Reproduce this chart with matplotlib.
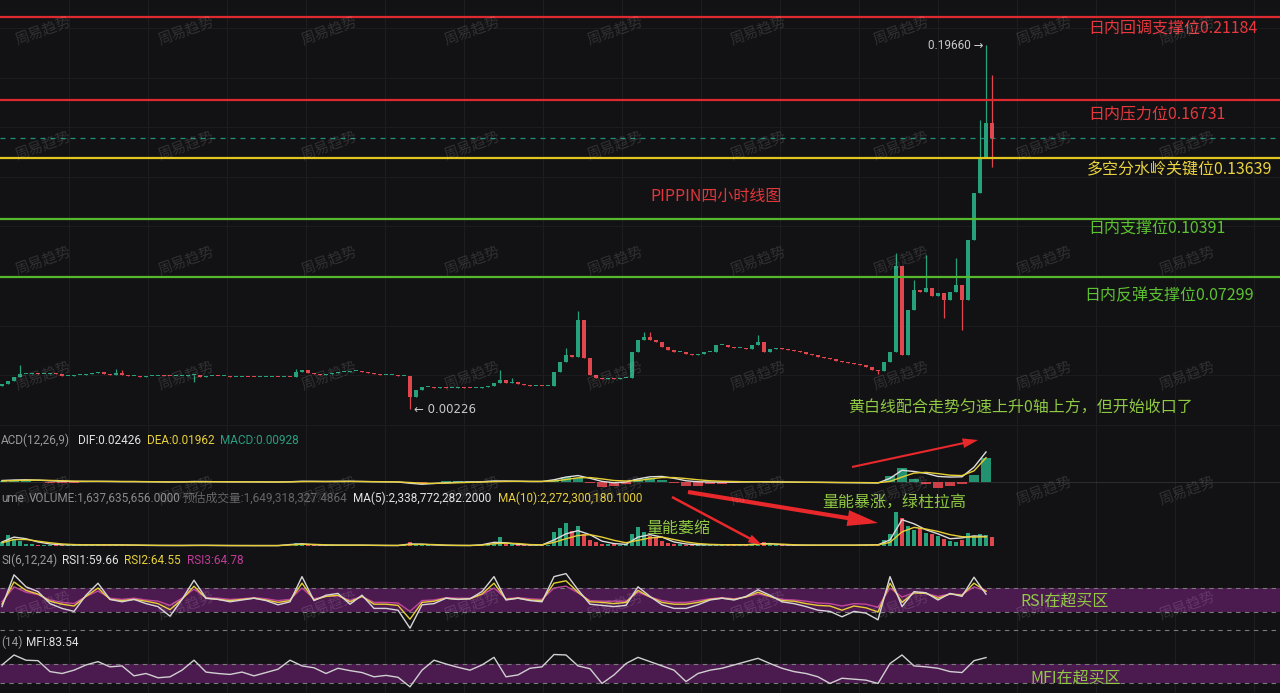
import matplotlib
matplotlib.use('Agg')
import matplotlib.pyplot as plt
import matplotlib.transforms as mtransforms
from matplotlib.patches import FancyArrowPatch
from matplotlib.lines import Line2D
import numpy as np

plt.rcParams['font.family'] = ['Noto Sans CJK SC', 'DejaVu Sans']

W, H = 1280, 693
BG = '#121214'

# ---------------- data ----------------
close = [
    0.0159, 0.0175, 0.0196, 0.0212, 0.0212, 0.0217, 0.0212, 0.0212, 0.0217, 0.0212,
    0.0201, 0.0201, 0.0207, 0.0207, 0.0212, 0.0217, 0.0223, 0.0212, 0.0207, 0.0217,
    0.0207, 0.0201, 0.0201, 0.0196, 0.0201, 0.0201, 0.0203, 0.0201, 0.0199, 0.0201,
    0.0201, 0.0207, 0.0207, 0.0196, 0.0201, 0.0201, 0.0199, 0.0201, 0.0196, 0.0196,
    0.0198, 0.0196, 0.0194, 0.0196, 0.0196, 0.0198, 0.0196, 0.0196, 0.0194, 0.0223,
    0.0233, 0.0217, 0.0212, 0.0207, 0.0212, 0.0217, 0.0223, 0.0223, 0.0228, 0.0228,
    0.0223, 0.0217, 0.0212, 0.0207, 0.0207, 0.0207, 0.0201, 0.0201, 0.0089, 0.0126,
    0.0143, 0.0143, 0.0137, 0.0140, 0.0137, 0.0137, 0.0140, 0.0137, 0.0135, 0.0137,
    0.0140, 0.0148, 0.0164, 0.0180, 0.0164, 0.0169, 0.0159, 0.0153, 0.0148, 0.0148,
    0.0146, 0.0148, 0.0223, 0.0276, 0.0313, 0.0303, 0.0500, 0.0300, 0.0207, 0.0191,
    0.0185, 0.0191, 0.0185, 0.0191, 0.0191, 0.0330, 0.0394, 0.0410, 0.0394, 0.0383,
    0.0356, 0.0340, 0.0330, 0.0330, 0.0319, 0.0313, 0.0319, 0.0330, 0.0330, 0.0367,
    0.0367, 0.0356, 0.0351, 0.0351, 0.0346, 0.0367, 0.0383, 0.0330, 0.0346, 0.0351,
    0.0346, 0.0340, 0.0335, 0.0330, 0.0319, 0.0313, 0.0303, 0.0297, 0.0292, 0.0281,
    0.0276, 0.0271, 0.0265, 0.0260, 0.0249, 0.0233, 0.0228, 0.0276, 0.0330, 0.0790,
    0.0313, 0.0554, 0.0660, 0.0650, 0.0671, 0.0629, 0.0645, 0.0607, 0.0650, 0.0687,
    0.0607, 0.0927, 0.1178, 0.1370, 0.1552, 0.1472,
]
first_open = 0.0150
wick_high = {3: 0.0260, 19: 0.0239, 20: 0.0234, 49: 0.0239, 83: 0.0233, 85: 0.0191,
             94: 0.0350, 96: 0.0548, 107: 0.0436, 108: 0.0436, 126: 0.0420,
             149: 0.0858, 150: 0.0790, 152: 0.0714, 154: 0.0847, 159: 0.0831,
             163: 0.1568, 164: 0.19660, 165: 0.1808}
wick_low = {32: 0.0169, 68: 0.00226, 146: 0.0212, 157: 0.0511, 160: 0.0447, 165: 0.1317}

volume = [
    1.0, 2.7, 1.8, 1.2, 0.6, 0.4, 0.3, 0.3, 0.2, 0.2,
    0.2, 0.2, 0.3, 0.2, 0.2, 0.3, 0.4, 0.2, 0.2, 0.3,
    0.3, 0.2, 0.1, 0.1, 0.1, 0.1, 0.1, 0.1, 0.1, 0.1,
    0.1, 0.2, 0.2, 0.2, 0.1, 0.1, 0.1, 0.1, 0.1, 0.1,
    0.1, 0.1, 0.1, 0.1, 0.1, 0.1, 0.1, 0.1, 0.1, 0.8,
    0.6, 0.3, 0.2, 0.2, 0.2, 0.2, 0.2, 0.2, 0.2, 0.2,
    0.2, 0.2, 0.1, 0.1, 0.1, 0.1, 0.1, 0.2, 1.0, 0.6,
    0.3, 0.2, 0.1, 0.1, 0.1, 0.1, 0.1, 0.1, 0.1, 0.1,
    0.1, 0.2, 0.6, 2.2, 0.8, 0.5, 0.3, 0.2, 0.2, 0.2,
    0.2, 0.3, 3.5, 4.5, 5.6, 3.8, 5.0, 3.0, 1.5, 0.9,
    0.6, 0.5, 0.4, 0.3, 0.4, 3.0, 4.7, 3.5, 2.5, 2.0,
    1.2, 0.8, 0.6, 0.4, 0.3, 0.3, 0.3, 0.3, 0.3, 0.5,
    0.4, 0.3, 0.3, 0.2, 0.2, 0.4, 0.6, 1.0, 0.4, 0.3,
    0.2, 0.2, 0.2, 0.2, 0.2, 0.2, 0.2, 0.2, 0.2, 0.2,
    0.2, 0.2, 0.2, 0.2, 0.2, 0.3, 0.4, 1.5, 3.0, 8.4,
    7.0, 5.0, 4.0, 4.5, 3.2, 3.0, 2.5, 1.8, 1.2, 1.0,
    1.5, 3.2, 2.5, 3.0, 2.8, 2.3,
]
vol_ma5 = [
    1.0, 2.2, 1.8, 1.0, 0.5, 0.3, 0.25, 0.25, 0.25, 0.25,
    0.25, 0.2, 0.15, 0.12, 0.12, 0.12, 0.15, 0.15, 0.12, 0.1,
    0.1, 0.1, 0.1, 0.1, 0.35, 0.55, 0.3, 0.2, 0.2, 0.2,
    0.2, 0.15, 0.12, 0.12, 0.5, 0.45, 0.25, 0.15, 0.12, 0.12,
    0.3, 0.9, 0.8, 0.4, 0.25, 0.25, 1.5, 3.0, 3.8, 2.8,
    1.2, 0.6, 0.4, 2.2, 2.8, 2.2, 1.0, 0.5, 0.3, 0.3,
    0.3, 0.3, 0.3, 0.5, 0.6, 0.3, 0.2, 0.2, 0.2, 0.2,
    0.2, 0.2, 0.25, 0.3, 1.5, 6.5, 5.5, 4.0, 3.0, 1.8,
    2.0, 2.5, 2.34,
]
vol_ma10 = [
    0.8, 1.6, 1.6, 1.2, 0.8, 0.5, 0.35, 0.3, 0.3, 0.28,
    0.26, 0.24, 0.2, 0.16, 0.14, 0.13, 0.14, 0.15, 0.14, 0.12,
    0.11, 0.1, 0.1, 0.1, 0.25, 0.4, 0.4, 0.28, 0.22, 0.2,
    0.2, 0.18, 0.15, 0.13, 0.35, 0.4, 0.35, 0.22, 0.16, 0.13,
    0.2, 0.55, 0.7, 0.6, 0.35, 0.28, 0.9, 1.8, 2.6, 2.8,
    2.2, 1.4, 0.8, 1.4, 2.0, 2.2, 1.6, 1.0, 0.6, 0.4,
    0.32, 0.3, 0.3, 0.4, 0.5, 0.45, 0.3, 0.22, 0.2, 0.2,
    0.2, 0.2, 0.22, 0.26, 0.9, 3.5, 4.6, 4.2, 3.6, 2.8,
    2.3, 2.2, 2.27,
]
dif = [
    0.0012, 0.0016, 0.0018, 0.0015, 0.0010, 0.0006, 0.0004, 0.0004, 0.0005, 0.0004,
    0.0003, 0.0003, 0.0002, 0.0001, 0.0000, 0.0001, 0.0004, 0.0003, 0.0002, 0.0001,
    0.0001, 0.0001, 0.0000, 0.0000, 0.0002, 0.0006, 0.0005, 0.0004, 0.0005, 0.0005,
    0.0004, 0.0002, 0.0001, 0.0000, -0.0010, -0.0018, -0.0012, -0.0006, -0.0002, 0.0000,
    0.0002, 0.0008, 0.0008, 0.0006, 0.0004, 0.0004, 0.0018, 0.0040, 0.0052, 0.0030,
    0.0005, -0.0006, 0.0000, 0.0025, 0.0042, 0.0045, 0.0030, 0.0010, 0.0002, 0.0000,
    -0.0001, -0.0001, 0.0000, 0.0002, 0.0001, 0.0000, -0.0001, -0.0002, -0.0003, -0.0004,
    -0.0005, -0.0006, -0.0007, -0.0008, 0.0030, 0.0095, 0.0085, 0.0070, 0.0045, 0.0040,
    0.0042, 0.0120, 0.02426,
]
dea = [
    0.0008, 0.0011, 0.0014, 0.0015, 0.0013, 0.0010, 0.0007, 0.0006, 0.0005, 0.0005,
    0.0004, 0.0004, 0.0003, 0.0002, 0.0001, 0.0001, 0.0002, 0.0002, 0.0002, 0.0002,
    0.0001, 0.0001, 0.0001, 0.0000, 0.0001, 0.0003, 0.0004, 0.0004, 0.0004, 0.0005,
    0.0004, 0.0003, 0.0002, 0.0001, -0.0004, -0.0010, -0.0011, -0.0009, -0.0006, -0.0003,
    0.0000, 0.0003, 0.0005, 0.0006, 0.0005, 0.0005, 0.0008, 0.0020, 0.0034, 0.0036,
    0.0025, 0.0012, 0.0008, 0.0012, 0.0025, 0.0036, 0.0036, 0.0028, 0.0018, 0.0010,
    0.0006, 0.0004, 0.0002, 0.0002, 0.0001, 0.0000, -0.0001, -0.0002, -0.0002, -0.0003,
    -0.0004, -0.0004, -0.0005, -0.0006, 0.0005, 0.0040, 0.0072, 0.0078, 0.0068, 0.0055,
    0.0052, 0.0090, 0.01962,
]
macd_hist = [
    0.0008, 0.0010, 0.0008, 0.0000, -0.0006, -0.0008, -0.0006, -0.0004, 0.0000, -0.0002,
    -0.0002, -0.0002, -0.0002, -0.0002, -0.0002, 0.0000, 0.0004, 0.0002, 0.0000, -0.0002,
    0.0000, 0.0000, -0.0002, 0.0000, 0.0002, 0.0006, 0.0002, 0.0000, 0.0002, 0.0000,
    0.0000, -0.0002, -0.0002, -0.0002, -0.0012, -0.0016, -0.0002, 0.0006, 0.0008, 0.0006,
    0.0004, 0.0010, 0.0006, 0.0000, -0.0002, -0.0002, 0.0020, 0.0040, 0.0036, -0.0012,
    -0.0040, -0.0036, -0.0016, 0.0026, 0.0034, 0.0018, -0.0012, -0.0036, -0.0032, -0.0020,
    -0.0014, -0.0010, -0.0004, 0.0000, 0.0000, 0.0000, 0.0000, 0.0000, -0.0002, -0.0002,
    -0.0002, -0.0004, -0.0004, -0.0004, 0.0050, 0.0110, 0.0026, -0.0016, -0.0046, -0.0030,
    -0.0020, 0.0060, 0.0196,
]
rsi1 = [
    39, 92, 72, 64, 44, 36, 31, 58, 78, 51,
    47, 51, 44, 39, 23, 51, 83, 53, 51, 47,
    50, 53, 49, 42, 47, 89, 49, 58, 61, 43,
    58, 36, 36, 33, 3, 42, 44, 53, 51, 52,
    64, 89, 50, 53, 49, 47, 89, 94, 67, 43,
    41, 39, 41, 72, 56, 42, 36, 36, 42, 50,
    53, 50, 56, 67, 58, 47, 44, 39, 33, 31,
    22, 31, 28, 17, 89, 39, 64, 62, 50, 61,
    56, 88, 59.66,
]
rsi2 = [
    43, 80, 66, 60, 48, 43, 40, 56, 70, 51,
    49, 51, 48, 44, 34, 51, 73, 53, 51, 49,
    51, 53, 50, 46, 49, 78, 50, 56, 58, 47,
    56, 43, 43, 41, 18, 46, 48, 53, 51, 52,
    60, 78, 51, 53, 50, 49, 78, 82, 63, 47,
    46, 44, 46, 66, 55, 46, 43, 43, 46, 51,
    53, 51, 55, 63, 56, 49, 48, 44, 41, 40,
    33, 40, 37, 30, 78, 46, 62, 61, 53, 60,
    58, 78, 64.55,
]
rsi3 = [
    47, 72, 63, 59, 50, 46, 44, 56, 65, 53,
    51, 53, 50, 48, 41, 53, 68, 54, 53, 51,
    52, 54, 52, 49, 51, 70, 52, 56, 57, 49,
    56, 46, 46, 45, 31, 49, 50, 54, 53, 53,
    59, 70, 52, 54, 52, 51, 70, 73, 62, 49,
    48, 48, 48, 63, 55, 49, 46, 46, 49, 52,
    54, 52, 55, 60, 56, 51, 50, 48, 45, 44,
    40, 44, 43, 38, 70, 55, 62, 61, 56, 60,
    59, 72, 64.78,
]
mfi = [
    68, 89, 78, 77, 54, 50, 57, 68, 75, 64,
    66, 45, 50, 41, 43, 57, 78, 53, 50, 48,
    53, 45, 52, 59, 78, 66, 62, 50, 61, 56,
    52, 43, 46, 42, 22, 57, 78, 70, 63, 57,
    68, 84, 43, 47, 61, 64, 90, 89, 66, 60,
    29, 47, 71, 84, 75, 66, 57, 33, 50, 57,
    61, 68, 75, 82, 71, 61, 54, 50, 43, 29,
    40, 38, 36, 29, 71, 89, 66, 64, 61, 54,
    52, 77, 83.54,
]

levels = [0.21184, 0.16731, 0.13639, 0.10391, 0.07299]
level_labels = ['日内回调支撑位0.21184', '日内压力位0.16731', '多空分水岭关键位0.13639',
                '日内支撑位0.10391', '日内反弹支撑位0.07299']
level_kind = ['red', 'red', 'yellow', 'green', 'green']
last_price = 0.1472
high_label, low_label = '0.19660', '0.00226'

# ---------------- styles ----------------
UP, DOWN = '#26a17b', '#e0464e'
LINE_COL = {'red': '#dc2a30', 'yellow': '#e2c51f', 'green': '#56b82c'}
TEXT_COL = {'red': '#e8383e', 'yellow': '#ead33e', 'green': '#5cc232'}
NOTE_COL = '#8fc843'
XLIM = (-1 / 3, 213.0)

fig = plt.figure(figsize=(W / 100, H / 100), dpi=100, facecolor=BG)


def fx(px):
    return px / W


def fy(py):
    return 1 - py / H


def panel(top, bottom, ylim):
    ax = fig.add_axes([0, 1 - bottom / H, 1, (bottom - top) / H])
    ax.set_facecolor('none')
    ax.set_xlim(*XLIM)
    ax.set_ylim(*ylim)
    ax.axis('off')
    return ax


# background grid
for gx in range(69, W, 79):
    fig.add_artist(Line2D([fx(gx), fx(gx)], [0, 1], color='#1d1d22', lw=0.8, zorder=0))
for gy in np.arange(28, 430, 49.6):
    fig.add_artist(Line2D([0, 1], [fy(gy), fy(gy)], color='#1b1b20', lw=0.8, zorder=0))

# ---------------- main price panel ----------------
ax = panel(0, 428, (-0.00763, 0.22088))
n = len(close)
idx = np.arange(n)
c = np.array(close)
o = np.concatenate([[first_open], c[:-1]])
hi = np.maximum(o, c)
lo = np.minimum(o, c)
for k, v in wick_high.items():
    hi[k] = max(hi[k], v)
for k, v in wick_low.items():
    lo[k] = min(lo[k], v)
cols = [UP if cc >= oo else DOWN for oo, cc in zip(o, c)]
ax.vlines(idx, lo, hi, colors=cols, lw=0.9, zorder=3)
minh = 0.00055
body_h = np.maximum(np.abs(c - o), minh)
ax.bar(idx, body_h, bottom=np.minimum(o, c), width=0.55, color=cols, lw=0, zorder=4)

blend = mtransforms.blended_transform_factory(fig.transFigure, ax.transData)
label_dy = [11, 13, 12, 9, 19]
label_x = [1088, 1088, 1087, 1088, 1084]
for lv, lab, kind, dy, lx in zip(levels, level_labels, level_kind, label_dy, label_x):
    ax.axhline(lv, color=LINE_COL[kind], lw=1.6, zorder=5)
    ax.annotate(lab, xy=(fx(lx), lv), xycoords=blend, xytext=(0, -dy * 0.72),
                textcoords='offset points', ha='left', va='center',
                color=TEXT_COL[kind], fontsize=11.5, zorder=6)
ax.axhline(last_price, color='#1f8f79', lw=0.9, ls=(0, (4, 4)), zorder=2)

hi_i = int(np.argmax(hi))
lo_i = int(np.argmin(lo))
ax.annotate(high_label + ' →', xy=(hi_i, hi[hi_i]), xytext=(-2, 0), textcoords='offset points',
            ha='right', va='center', color='#c9c9c9', fontsize=8.5, family=['Roboto', 'DejaVu Sans'])
ax.annotate('← ' + low_label, xy=(lo_i, lo[lo_i]), xytext=(3, 0), textcoords='offset points',
            ha='left', va='center', color='#c9c9c9', fontsize=8.5, family=['DejaVu Sans'])

fig.text(fx(650), fy(196), 'PIPPIN四小时线图', color='#e0363c', fontsize=11.5, va='center', ha='left')

# ---------------- MACD ----------------
axm = panel(445, 492, (-0.00808, 0.02991))
ji = np.arange(len(dif)) * 2
hc = [UP if v >= 0 else DOWN for v in macd_hist]
axm.bar(ji, macd_hist, width=1.7, color=hc, lw=0, alpha=0.9, zorder=2)
axm.plot(ji, dif, color='#dedede', lw=1.0, zorder=3)
axm.plot(ji, dea, color='#e6cf35', lw=1.0, zorder=3)
axm.axhline(0, color='#3a3a3a', lw=0.5, zorder=1)

# ---------------- Volume ----------------
axv = panel(505, 548, (-0.5, 10.15))
axv.bar(idx, volume, width=0.62, color=cols, lw=0, zorder=2)
axv.plot(np.arange(len(vol_ma5)) * 2, vol_ma5, color='#dcdcdc', lw=1.0, zorder=3)
axv.plot(np.arange(len(vol_ma10)) * 2, vol_ma10, color='#e6cf35', lw=1.0, zorder=3)

# ---------------- RSI ----------------
axr = panel(566, 634, (-6.7, 106.7))
axr.axhspan(30, 70, color='#4b1a4f', lw=0, zorder=0)
for lv in (70, 30, 0):
    axr.axhline(lv, color='#7a7a7a', lw=0.8, ls=(0, (4, 4)), zorder=1)
jr = np.arange(len(rsi1)) * 2
axr.plot(jr, rsi3, color='#c0479c', lw=1.0, zorder=2)
axr.plot(jr, rsi2, color='#e6cf35', lw=1.0, zorder=3)
axr.plot(jr, rsi1, color='#d6d6d6', lw=1.0, zorder=4)

# ---------------- MFI ----------------
axf = panel(648, 693, (8.9, 103.7))
axf.axhspan(30, 70, color='#4b1a4f', lw=0, zorder=0)
for lv in (70, 30):
    axf.axhline(lv, color='#7a7a7a', lw=0.8, ls=(0, (4, 4)), zorder=1)
axf.plot(np.arange(len(mfi)) * 2, mfi, color='#d0d0d0', lw=1.0, zorder=2)

# ---------------- headers (left part is cut off in the reference) ----------------
HF = ['Roboto', 'Noto Sans CJK SC', 'DejaVu Sans']


def head(x, y, s, color, ha='left'):
    fig.text(fx(x), fy(y), s, color=color, fontsize=8.5, va='center', ha=ha, family=HF)


head(1, 440, 'ACD(12,26,9)', '#9a9a9a')
head(78, 440, 'DIF:0.02426', '#e2e2e2')
head(147, 440, 'DEA:0.01962', '#e8d13c')
head(220, 440, 'MACD:0.00928', '#2a9d80')

head(1, 498, 'ume', '#8a8a8a')
head(29, 498, 'VOLUME:1,637,635,656.0000', '#8a8a8a')
head(183, 498, '预估成交量:1,649,318,327.4864', '#666666')
head(353, 498, 'MA(5):2,338,772,282.2000', '#e2e2e2')
head(498, 498, 'MA(10):2,272,300,180.1000', '#e8d13c')

head(1, 560, 'SI(6,12,24)', '#9a9a9a')
head(62, 560, 'RSI1:59.66', '#e2e2e2')
head(124, 560, 'RSI2:64.55', '#e8d13c')
head(187, 560, 'RSI3:64.78', '#c13c99')

head(1, 642, '(14)', '#9a9a9a')
head(26, 642, 'MFI:83.54', '#e2e2e2')

# ---------------- notes ----------------
fig.text(fx(848), fy(408), '黄白线配合走势匀速上升0轴上方，但开始收口了', color=NOTE_COL, fontsize=11.5, va='center')
fig.text(fx(822), fy(502), '量能暴涨，绿柱拉高', color=NOTE_COL, fontsize=11.5, va='center')
fig.text(fx(646), fy(528), '量能萎缩', color=NOTE_COL, fontsize=11.5, va='center')
fig.text(fx(1020), fy(601), 'RSI在超买区', color=NOTE_COL, fontsize=11.5, va='center')
fig.text(fx(1030), fy(678), 'MFI在超买区', color=NOTE_COL, fontsize=11.5, va='center')


def arrow(p0, p1, hl, hw, tw):
    a = FancyArrowPatch((fx(p0[0]), fy(p0[1])), (fx(p1[0]), fy(p1[1])), transform=fig.transFigure,
                        arrowstyle=f'simple,head_length={hl},head_width={hw},tail_width={tw}',
                        mutation_scale=10, color='#e8282b', lw=0, shrinkA=0, shrinkB=0, zorder=20)
    fig.add_artist(a)


arrow((852, 467), (978, 440), 1.1, 0.7, 0.15)
arrow((688, 492), (878, 523), 2.2, 1.15, 0.3)
arrow((672, 497), (762, 545), 1.0, 0.6, 0.18)

# ---------------- watermarks ----------------
for wy in (31, 146, 261, 376, 491, 606):
    for wx in range(43, W, 143):
        fig.text(fx(wx), fy(wy), '周易趋势', rotation=20, ha='center', va='center',
                 color='white', alpha=0.13, fontsize=10.5, zorder=30)

fig.savefig('out.png', dpi=100, facecolor=BG)
